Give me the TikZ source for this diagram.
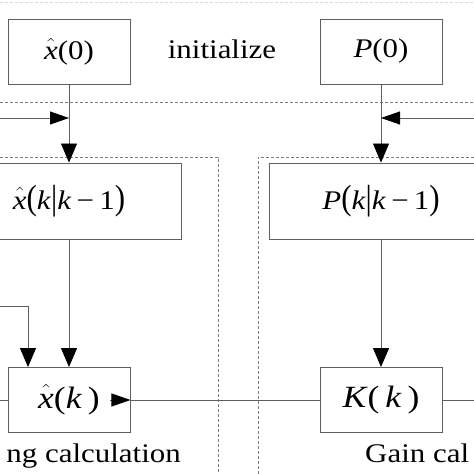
\documentclass[tikz,border=0pt]{standalone}
\usepackage{fontspec}
\setmainfont{Liberation Serif}
\usetikzlibrary{arrows.meta}
\definecolor{linegray}{RGB}{95,95,95}
\definecolor{dashgray}{RGB}{125,125,125}
\newcommand{\sx}[1]{\scalebox{1.15}[1]{#1}}
\newcommand{\tp}[1]{\scalebox{1}[1.3]{#1}}
\newcommand{\xh}{\ensuremath{\hat{\vphantom{\textit{t}}\textit{x}}}}

\begin{document}
\begin{tikzpicture}[x=1bp,y=-1bp,
  blk/.style={draw=linegray,line width=0.9bp,minimum width=122bp,minimum height=65bp,inner sep=0pt,font=\fontsize{27}{30}\selectfont},
  wideblk/.style={blk,minimum width=224bp,minimum height=76bp},
  lbl/.style={inner sep=0pt,font=\fontsize{27}{30}\selectfont},
  con/.style={draw=linegray,line width=0.9bp},
  arr/.style={con,-{Triangle[length=19bp,width=16bp,color=black]}},
  region/.style={draw=dashgray,line width=0.8bp,dash pattern=on 3bp off 2bp}]
  \useasboundingbox (0,0) rectangle (474,474);
  \clip (0,0) rectangle (474,474);
  % dashed regions
  \draw[region,draw=dashgray!30] (0,2) -- (474,2);
  \draw[region] (0,102) -- (474,102);
  \draw[region] (-10,157) -- (218,157) -- (218,480);
  \draw[region] (484,157) -- (258,157) -- (258,480);
  % blocks
  \node[blk] (x0) at (69,51.5) {\sx{\xh(0)}};
  \node[lbl] (init) at (222,49) {\sx{initialize}};
  \node[blk] (P0) at (381,51.5) {\sx{\textit{P}(0)}};
  \node[wideblk] (xpred) at (69,201) {\sx{\xh\tp{(}\textit{k}\tp{|}\textit{k}\,−\,1\tp{)}}};
  \node[wideblk] (Ppred) at (381,201) {\sx{\textit{P}\tp{(}\textit{k}\tp{|}\textit{k}\,−\,1\tp{)}}};
  \node[blk,font=\fontsize{31}{34}\selectfont] (xk) at (69,400) {\sx{\xh(\textit{k}\,)}};
  \node[blk,font=\fontsize{31}{34}\selectfont] (Kk) at (381,400) {\sx{\textit{K}(\,\textit{k}\,)}};
  \node[lbl,anchor=base east] (filt) at (181,462) {\sx{ng calculation}};
  \node[lbl,anchor=base west] (gain) at (365,462) {\sx{Gain cal}};
  % free ends
  \coordinate (fbl) at (0,118);
  \coordinate (fbx) at (69,118);
  \coordinate (fbr) at (474,118);
  \coordinate (fbp) at (381,118);
  \coordinate (inl) at (0,306);
  \coordinate (inw) at (0,400);
  \coordinate (outr) at (474,400);
  % connectors
  \draw[arr] (x0) -- (xpred);
  \draw[arr] (P0) -- (Ppred);
  \draw[arr,-{Triangle[length=19bp,width=13bp,color=black]}] (fbl) -- (fbx);
  \draw[arr,-{Triangle[length=19bp,width=13bp,color=black]}] (fbr) -- (fbp);
  \draw[arr] (xpred) -- (xk);
  \draw[arr] (Ppred) -- (Kk);
  \draw[arr] (inl) -| ([xshift=-41bp]xk.north);
  \draw[con] (inw) -- (xk.west);
  \draw[arr,-{Triangle[length=19bp,width=13bp,color=black]}] ([xshift=-20bp]xk.east) -- (xk.east);
  \draw[con] (xk.east) -- (Kk.west);
  \draw[con] (Kk.east) -- (outr);
\end{tikzpicture}
\end{document}
